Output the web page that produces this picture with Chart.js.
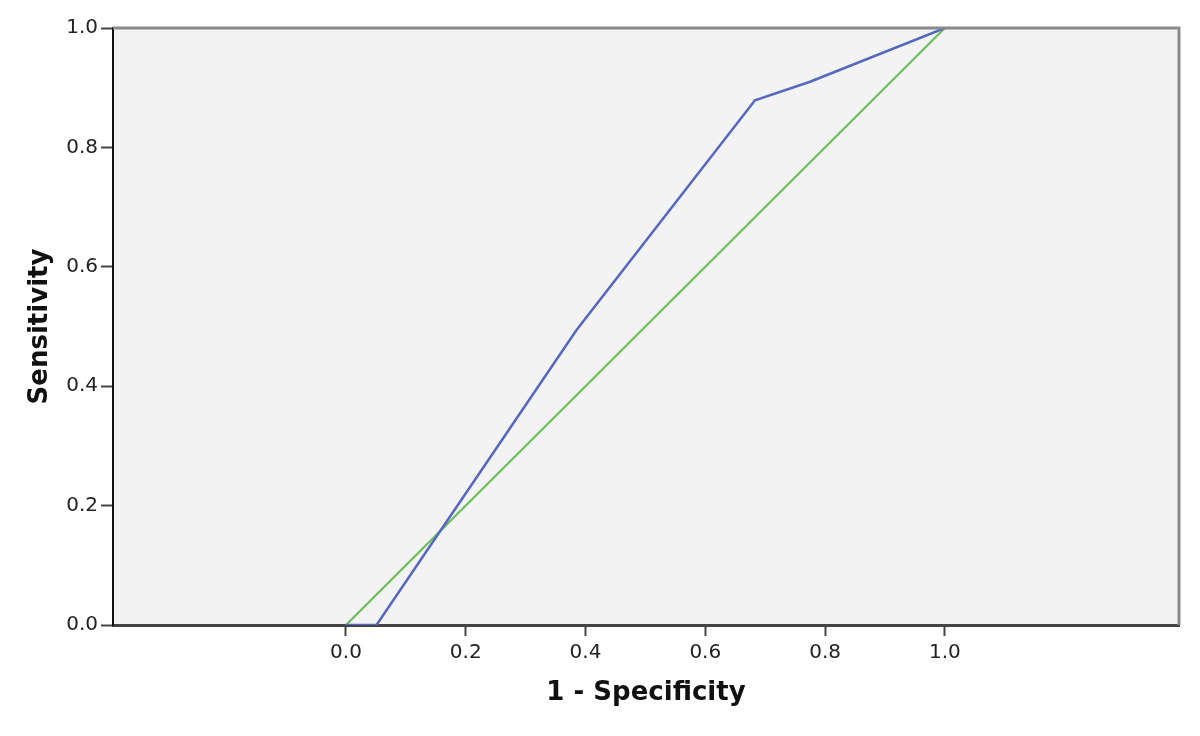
<!DOCTYPE html>
<html>
<head>
<meta charset="utf-8">
<script src="https://cdn.jsdelivr.net/npm/chart.js@4.4.0/dist/chart.umd.min.js"></script>
<style>
  html, body { margin: 0; padding: 0; background: #fff; }
  #wrap { width: 1200px; height: 736px; }
</style>
</head>
<body>
<div id="wrap"><canvas id="chart" width="1200" height="736"></canvas></div>
<script>
// ROC curve values
const rocX = [0, 0.051, 0.385, 0.683, 0.775, 1.0];
const rocY = [0, 0, 0.494, 0.879, 0.910, 1.0];

// reference diagonal
const refX = [0, 1];
const refY = [0, 1];

const xTicks = [0, 0.2, 0.4, 0.6, 0.8, 1.0];
const yTicks = [0, 0.2, 0.4, 0.6, 0.8, 1.0];

function toPoints(xs, ys) {
    return xs.map((x, i) => ({ x: x, y: ys[i] }));
}

// plot background + grey top/right frame
const frame = {
    id: 'frame',
    beforeDraw(chart) {
        const { ctx, chartArea: a } = chart;
        ctx.save();
        ctx.fillStyle = '#f3f3f3';
        ctx.fillRect(a.left, a.top, a.right - a.left, a.bottom - a.top);
        ctx.restore();
    },
    afterDatasetsDraw(chart) {
        const { ctx, chartArea: a } = chart;
        ctx.save();
        ctx.strokeStyle = '#8a8a8a';
        ctx.lineWidth = 3;
        ctx.beginPath();
        ctx.moveTo(a.left, a.top);
        ctx.lineTo(a.right, a.top);
        ctx.lineTo(a.right, a.bottom);
        ctx.stroke();
        ctx.restore();
    }
};

const tickFont = { family: 'DejaVu Sans', size: 20 };
const titleFont = { family: 'DejaVu Sans', size: 26, weight: 'bold' };

new Chart(document.getElementById('chart'), {
    type: 'scatter',
    data: {
        datasets: [
            {
                label: 'ROC',
                data: toPoints(rocX, rocY),
                showLine: true,
                borderColor: '#5567c2',
                borderWidth: 2.5,
                pointRadius: 0,
                tension: 0
            },
            {
                label: 'Reference',
                data: toPoints(refX, refY),
                showLine: true,
                borderColor: '#6cc05c',
                borderWidth: 2.2,
                pointRadius: 0,
                tension: 0
            }
        ]
    },
    options: {
        responsive: false,
        animation: false,
        layout: { padding: { top: 28, right: 21, left: 0, bottom: 0 } },
        plugins: {
            legend: { display: false },
            tooltip: { enabled: false }
        },
        scales: {
            x: {
                type: 'linear',
                min: -0.389,
                max: 1.391,
                afterBuildTicks: (s) => { s.ticks = xTicks.map(v => ({ value: v })); },
                afterFit: (s) => { s.height = 111; },
                ticks: {
                    font: tickFont,
                    color: '#222',
                    padding: 5,
                    callback: (v) => v.toFixed(1)
                },
                grid: {
                    drawOnChartArea: false,
                    drawTicks: true,
                    tickLength: 11,
                    tickWidth: 2,
                    tickColor: '#444'
                },
                border: { display: true, color: '#444', width: 3 },
                title: {
                    display: true,
                    text: '1 - Specificity',
                    font: titleFont,
                    color: '#111',
                    padding: { top: 0, bottom: 27 }
                }
            },
            y: {
                type: 'linear',
                min: 0,
                max: 1,
                afterBuildTicks: (s) => { s.ticks = yTicks.map(v => ({ value: v })); },
                afterFit: (s) => { s.width = 113; },
                ticks: {
                    font: tickFont,
                    color: '#222',
                    padding: 3,
                    callback: (v) => v.toFixed(1)
                },
                grid: {
                    drawOnChartArea: false,
                    drawTicks: true,
                    tickLength: 12,
                    tickWidth: 2,
                    tickColor: '#444'
                },
                border: { display: true, color: '#111', width: 2 },
                title: {
                    display: true,
                    text: 'Sensitivity',
                    font: titleFont,
                    color: '#111',
                    padding: { top: 25, bottom: 0 }
                }
            }
        }
    },
    plugins: [frame]
});
</script>
</body>
</html>
